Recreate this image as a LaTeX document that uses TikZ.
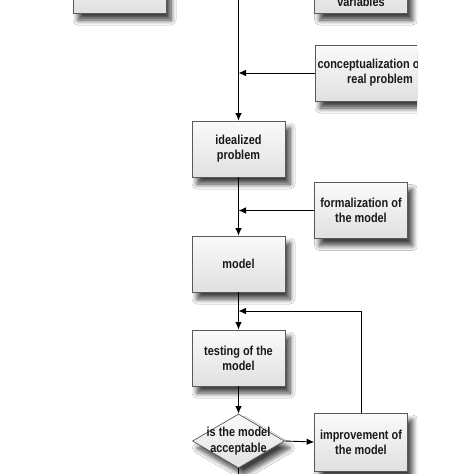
\documentclass[tikz,border=0pt]{standalone}
\usepackage{fontspec}
\setmainfont{Liberation Sans}[FakeStretch=0.84]
\usetikzlibrary{shapes.geometric,arrows.meta,shadows.blur}
\tikzset{
  boxshade/.style={draw=gray!70!black, line width=0.7pt, top color=gray!4, bottom color=gray!24,
    blur shadow={shadow xshift=5pt, shadow yshift=-7pt, shadow blur radius=5pt, shadow blur steps=8, shadow opacity=75}},
  stepbox/.style={boxshade, minimum width=93pt, minimum height=56pt, inner sep=0pt, align=center,
    font=\fontsize{13}{15}\selectfont\bfseries, text=black!90},
  txt/.style={align=center, font=\fontsize{13}{16}\selectfont\bfseries, text=black!90, inner sep=0pt},
  dia/.style={boxshade, shape=diamond, minimum width=92pt, minimum height=54pt, inner sep=0pt, aspect=1.7},
  arr/.style={draw=black, line width=0.9pt, -{Latex[length=7.5pt,width=6.5pt]}},
  ln/.style={draw=black, line width=0.9pt}
}
\begin{document}
\begin{tikzpicture}[x=1pt,y=-1pt]
\useasboundingbox (0,0) rectangle (474,474);
\fill[white] (0,0) rectangle (474,474);
\clip (0,0) rectangle (417,474);
% top partial boxes
\node[stepbox] (tl) at (119.5,-15) {};
\node[stepbox] (tr) at (361,-15) {};
\node[txt] (trt) at (361,2) {variables};
% main column
\node[stepbox, minimum width=130pt] (concept) at (380,73) {conceptualization of the\\real problem};
\node[stepbox] (ideal) at (238.5,149) {idealized\\problem};
\node[stepbox] (formal) at (361,210.5) {formalization of\\the model};
\node[stepbox] (model) at (238.5,264) {model};
\node[stepbox] (test) at (238.5,358) {testing of the\\model};
\node[dia] (acc) at (238.5,441) {};
\node[txt] (acct) at (acc) {is the model\\acceptable};
\node[stepbox, minimum height=58pt] (imp) at (361,442) {improvement of\\the model};
\coordinate (top) at (238.5,-5);
\coordinate (bot) at (238.5,480);
\coordinate (fbj) at (238.5,311);
% connectors
\draw[arr] (top) -- (ideal.north);
\draw[arr] (concept.west) -- (ideal.north |- concept.west);
\draw[arr] (ideal.south) -- (model.north);
\draw[arr] (formal.west) -- (ideal.south |- formal.west);
\draw[arr] (model.south) -- (test.north);
\draw[arr] (imp.north) |- (fbj);
\draw[arr] (test.south) -- (acc.north);
\draw[arr] (acc.east) -- (imp.west);
\draw[ln] (acc.south) -- (bot);
\end{tikzpicture}
\end{document}
